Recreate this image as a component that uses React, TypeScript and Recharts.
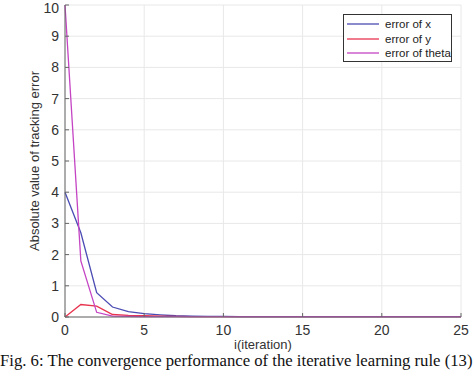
import { LineChart, Line, XAxis, YAxis, CartesianGrid, Legend } from 'recharts'

const iterations = [0, 1, 2, 3, 4, 5, 6, 7, 8, 9, 10, 11, 12, 13, 14, 15, 16, 17, 18, 19, 20, 21, 22, 23, 24, 25]
const errorX = [4.0, 2.7, 0.78, 0.32, 0.17, 0.11, 0.07, 0.04, 0.03, 0.02, 0.02, 0.015, 0.01, 0.01, 0.01, 0.01, 0.01, 0.01, 0.01, 0.01, 0.01, 0.01, 0.01, 0.01, 0.01, 0.01]
const errorY = [0, 0.4, 0.35, 0.08, 0.05, 0.04, 0.03, 0.02, 0.015, 0.01, 0.01, 0.01, 0.01, 0.01, 0.01, 0.01, 0.01, 0.01, 0.01, 0.01, 0.01, 0.01, 0.01, 0.01, 0.01, 0.01]
const errorTheta = [10, 1.8, 0.15, 0.03, 0.02, 0.01, 0.01, 0.01, 0.01, 0.01, 0.01, 0.01, 0.01, 0.01, 0.01, 0.01, 0.01, 0.01, 0.01, 0.01, 0.01, 0.01, 0.01, 0.01, 0.01, 0.01]
const xTicks = [0, 5, 10, 15, 20, 25]
const yTicks = [0, 1, 2, 3, 4, 5, 6, 7, 8, 9, 10]

const series = [
  { key: 'x', name: 'error of x', color: '#4b4bb4' },
  { key: 'y', name: 'error of y', color: '#e8344e' },
  { key: 'theta', name: 'error of theta', color: '#c444c4' },
]

const data = iterations.map((i, idx) => ({
  i,
  x: errorX[idx],
  y: errorY[idx],
  theta: errorTheta[idx],
}))

const font = 'Liberation Sans, Arial, sans-serif'

function LegendBox() {
  return (
    <div
      style={{
        boxSizing: 'border-box',
        border: '1px solid #333',
        background: '#fff',
        padding: '2px 3px',
        fontFamily: font,
        fontSize: 11.5,
        color: '#222',
        width: 109,
        height: 48,
        textAlign: 'left',
        whiteSpace: 'nowrap',
      }}
    >
      {series.map((s) => (
        <div key={s.key} style={{ display: 'flex', alignItems: 'center', height: 14.5 }}>
          <svg width={32} height={4} style={{ marginRight: 6, flexShrink: 0 }}>
            <line x1={0} y1={2} x2={32} y2={2} stroke={s.color} strokeWidth={1.3} />
          </svg>
          <span>{s.name}</span>
        </div>
      ))}
    </div>
  )
}

export default function App() {
  return (
    <div style={{ position: 'absolute', left: 0, top: 0, width: 474, height: 380, background: '#fff' }}>
      <LineChart width={474} height={380} data={data} margin={{ top: 5, right: 13, bottom: 0, left: 0 }}>
        <CartesianGrid stroke="#e8e8e8" strokeWidth={1} />
        <XAxis
          dataKey="i"
          type="number"
          domain={[0, 25]}
          ticks={xTicks}
          height={63}
          stroke="#666"
          tickSize={-4}
          tickMargin={12}
          tick={{ fill: '#333', fontSize: 14, fontFamily: font }}
          label={{ value: 'i(iteration)', position: 'insideTop', offset: 23, fill: '#333', fontSize: 13, fontFamily: font }}
        />
        <XAxis xAxisId="top" orientation="top" dataKey="i" type="number" domain={[0, 25]} ticks={xTicks} height={0} stroke="#666" tickSize={-4} tick={false} />
        <YAxis
          type="number"
          domain={[0, 10]}
          ticks={yTicks}
          width={65}
          stroke="#666"
          tickSize={-4}
          tickMargin={10}
          tick={{ fill: '#333', fontSize: 14, fontFamily: font }}
          label={{ value: 'Absolute value of tracking error', angle: -90, position: 'insideLeft', offset: 34, style: { textAnchor: 'middle' }, fill: '#333', fontSize: 13, fontFamily: font }}
        />
        <YAxis yAxisId="right" orientation="right" type="number" domain={[0, 10]} ticks={yTicks} width={0} stroke="#666" tickSize={-4} tick={false} />
        <Legend
          layout="horizontal"
          verticalAlign="middle"
          align="center"
          content={<LegendBox />}
          wrapperStyle={{ position: 'absolute', top: 14, left: 343, width: 109, height: 48 }}
        />
        {series.map((s) => (
          <Line
            key={s.key}
            type="linear"
            dataKey={s.key}
            name={s.name}
            stroke={s.color}
            strokeWidth={1.3}
            dot={false}
            isAnimationActive={false}
          />
        ))}
      </LineChart>
      <div
        style={{
          position: 'absolute',
          left: 0,
          top: 351,
          whiteSpace: 'nowrap',
          fontFamily: 'Liberation Serif, Times New Roman, serif',
          fontSize: 16.7,
          color: '#111',
        }}
      >
        Fig. 6: The convergence performance of the iterative learning rule (13)
      </div>
    </div>
  )
}
